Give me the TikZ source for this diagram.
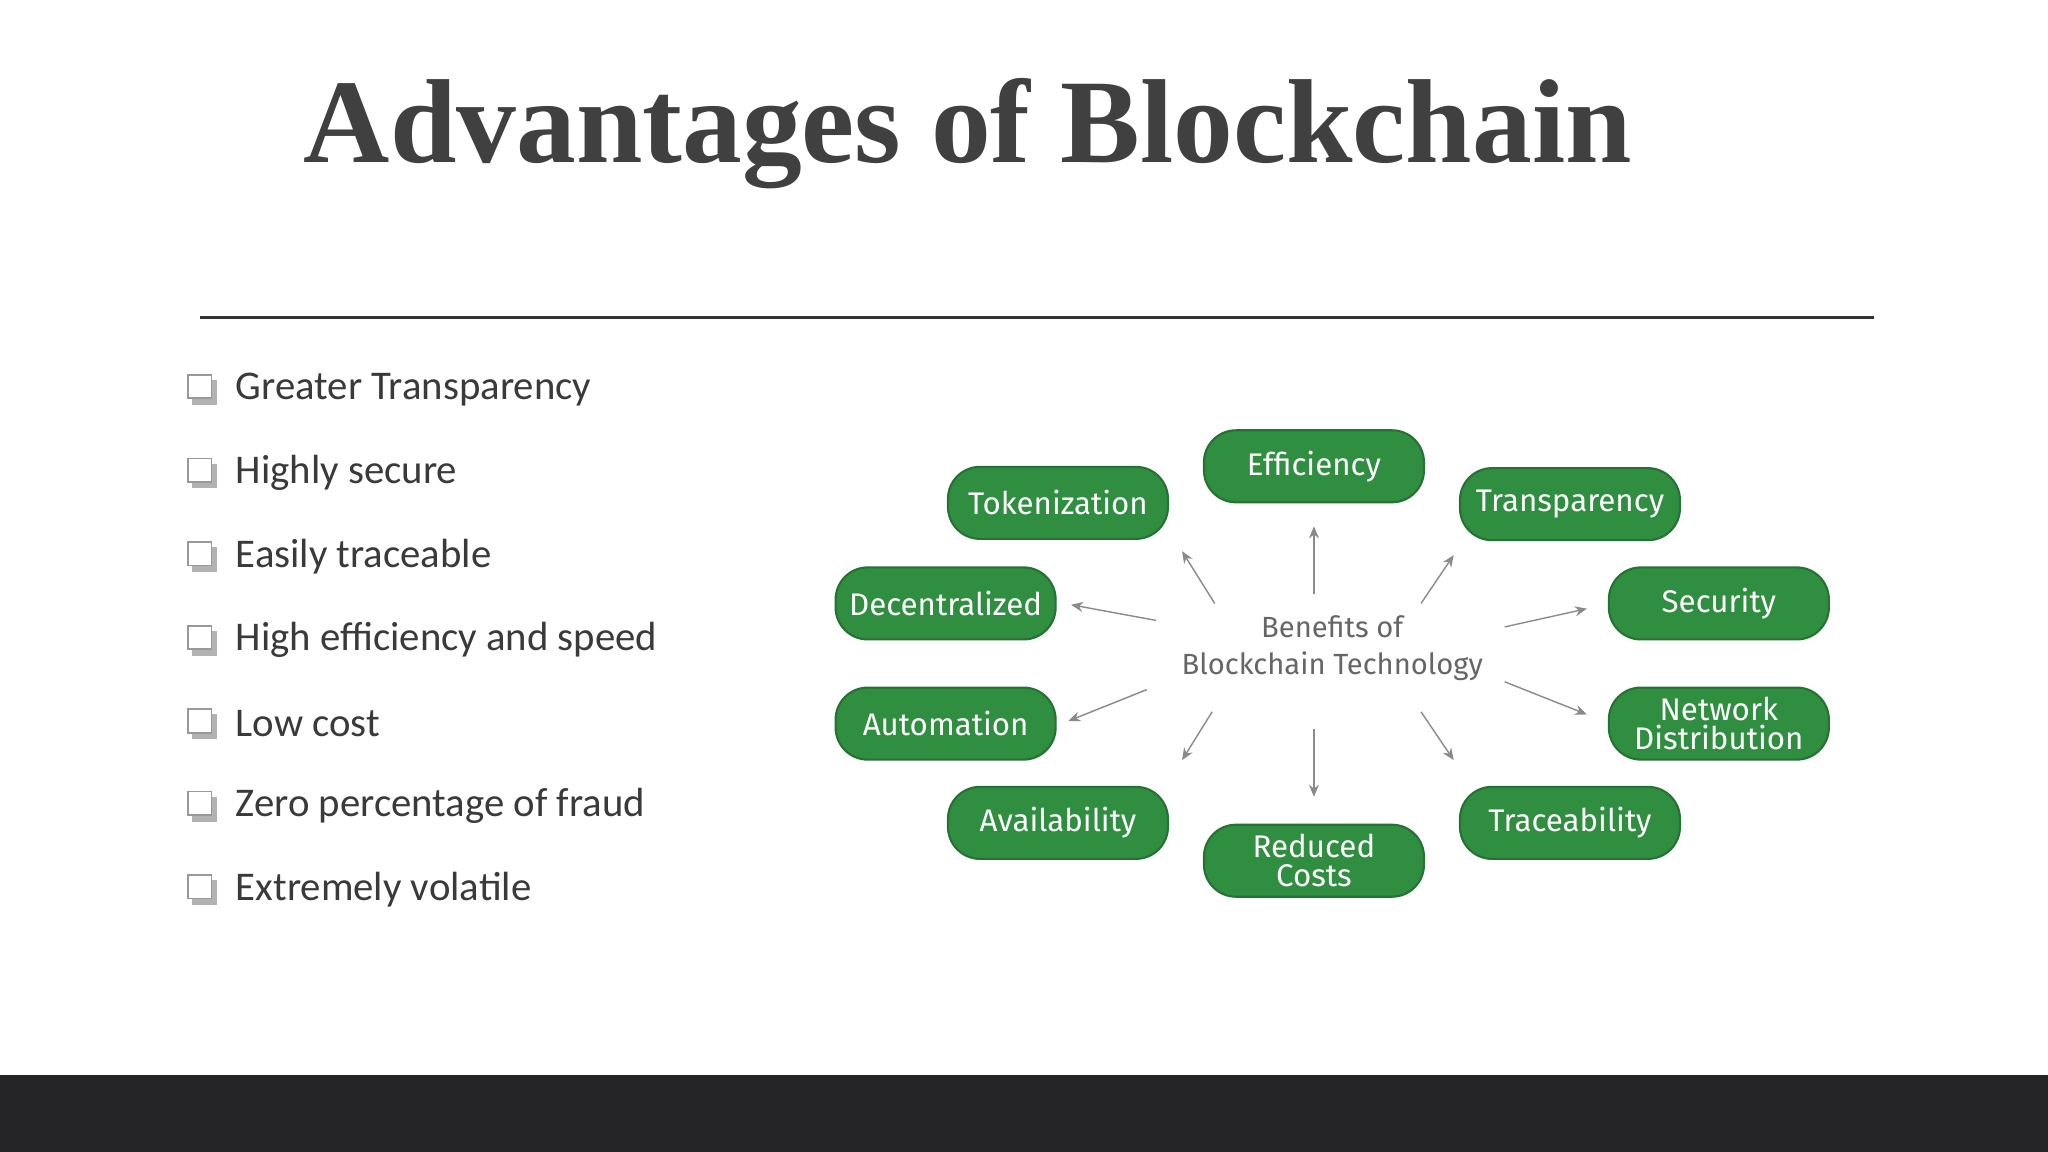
\documentclass[tikz,border=0pt]{standalone}
\usepackage{fontspec}
\setmainfont{Carlito}
\newfontfamily\titlefont{Liberation Serif}
\newfontfamily\boxfont{Fira Sans}
\usetikzlibrary{arrows.meta}
\definecolor{titlegray}{HTML}{404040}
\definecolor{bodygray}{HTML}{3A3A3A}
\definecolor{boxgreen}{HTML}{2F8E40}
\definecolor{bargray}{HTML}{252527}
\definecolor{arrgray}{HTML}{8A8A8A}
\tikzset{
  gbox/.style={draw=boxgreen!80!black,line width=0.6pt,fill=boxgreen,rounded corners=3.2mm,minimum width=2.2cm,minimum height=0.72cm,text=white,font=\boxfont\fontsize{8.9}{9.2}\selectfont,align=center,inner sep=1pt},
  bul/.style={anchor=west,font=\fontsize{11.6}{13}\selectfont,text=bodygray},
  arr/.style={-{Stealth[length=1.2mm,width=1mm]},arrgray,line width=0.4pt}
}
\begin{document}
\begin{tikzpicture}[x=0.013061cm,y=-0.013061cm]
\useasboundingbox (0,0) rectangle (1568,882);
\fill[white] (0,0) rectangle (1568,882);
\fill[bargray] (0,823) rectangle (1568,882);
\node (title) at (741,102) {\titlefont\bfseries\fontsize{34}{38}\selectfont\color{titlegray}Advantages of Blockchain};
\coordinate (l1) at (153,243); \coordinate (l2) at (1435,243);
\draw[black!80,line width=0.7pt] (l1) -- (l2);
\foreach \t/\y [count=\i] in {Greater Transparency/298,Highly secure/362,Easily traceable/426,High efficiency and speed/490,Low cost/554,Zero percentage of fraud/617,Extremely volatile/681}{
  \fill[gray!60] (147,\y-7) rectangle (166,\y+12);
  \draw[gray!80,fill=white,line width=0.5pt] (144,\y-11) rectangle (162,\y+7);
  \node[bul] (b\i) at (171,\y) {\t};
}
\node[gbox] (eff) at (1006,357) {Efficiency};
\node[gbox] (tok) at (810,385) {Tokenization};
\node[gbox] (tra) at (1202,386) {Transparency};
\node[gbox] (dec) at (724,462) {Decentralized};
\node[gbox] (sec) at (1316,462) {Security};
\node[gbox] (aut) at (724,554) {Automation};
\node[gbox] (net) at (1316,554) {Network\\[-1pt]Distribution};
\node[gbox] (ava) at (810,630) {Availability};
\node[gbox] (red) at (1006,659) {Reduced\\[-1pt]Costs};
\node[gbox] (tce) at (1202,630) {Traceability};
\node[align=center,text=gray!80!black,font=\boxfont\fontsize{8.3}{10.5}\selectfont] (ctr) at (1020,496) {Benefits of\\Blockchain Technology};
\foreach \a/\b/\c/\d/\n in {1006/455/1006/403/eff,930/462/905/422/tok,1088/462/1113/425/tra,885/475/820/463/dec,1152/480/1215/466/sec,878/528/818/552/aut,1152/522/1215/547/net,928/545/905/582/ava,1088/545/1113/582/tce,1006/558/1006/610/red}{
  \coordinate (s\n) at (\a,\b); \coordinate (e\n) at (\c,\d);
  \draw[arr] (s\n) -- (e\n);
}
\end{tikzpicture}
\end{document}
